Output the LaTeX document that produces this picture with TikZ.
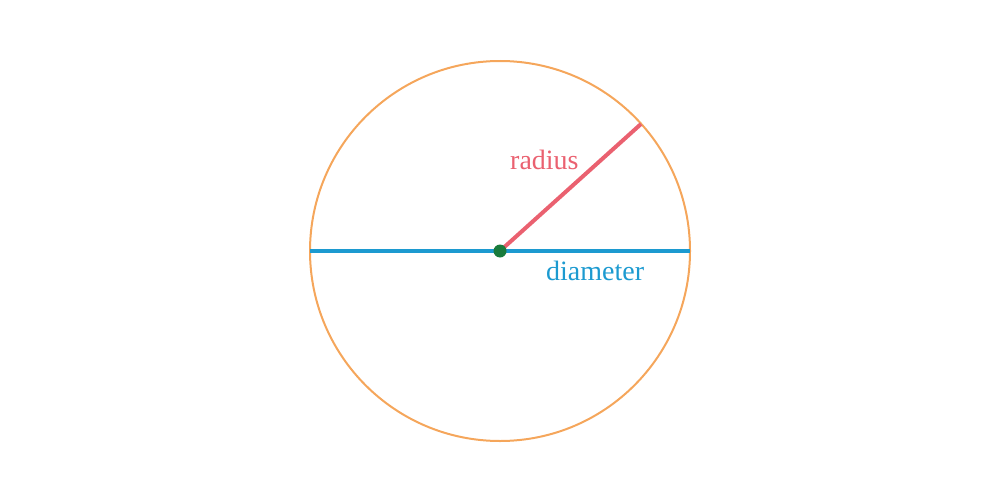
\documentclass[tikz,border=0pt]{standalone}
\usepackage{fontspec}
\setmainfont{Liberation Serif}
\definecolor{circorange}{HTML}{F5A65B}
\definecolor{radred}{HTML}{EA6170}
\definecolor{diamblue}{HTML}{1C9AD0}
\definecolor{dotgreen}{HTML}{197B3C}
\tikzset{
  lbl/.style={anchor=base west, inner sep=0pt, font=\fontsize{28}{30}\selectfont},
}
\begin{document}
\begin{tikzpicture}[x=1pt,y=-1pt]
\useasboundingbox (0,0) rectangle (1000,503);
\coordinate (c) at (500,251);
\draw[circorange, line width=2pt] (c) circle[radius=190];
\coordinate (dl) at (310,251);
\coordinate (dr) at (690,251);
\coordinate (rend) at (641,124);
\draw[diamblue, line width=4pt] (dl) -- (dr);
\draw[radred, line width=4pt] (c) -- (rend);
\fill[dotgreen] (c) circle[radius=6.5];
\node[lbl, text=radred] (rlab) at (510,169) {radius};
\node[lbl, text=diamblue] (dlab) at (546,280) {diameter};
\end{tikzpicture}
\end{document}
